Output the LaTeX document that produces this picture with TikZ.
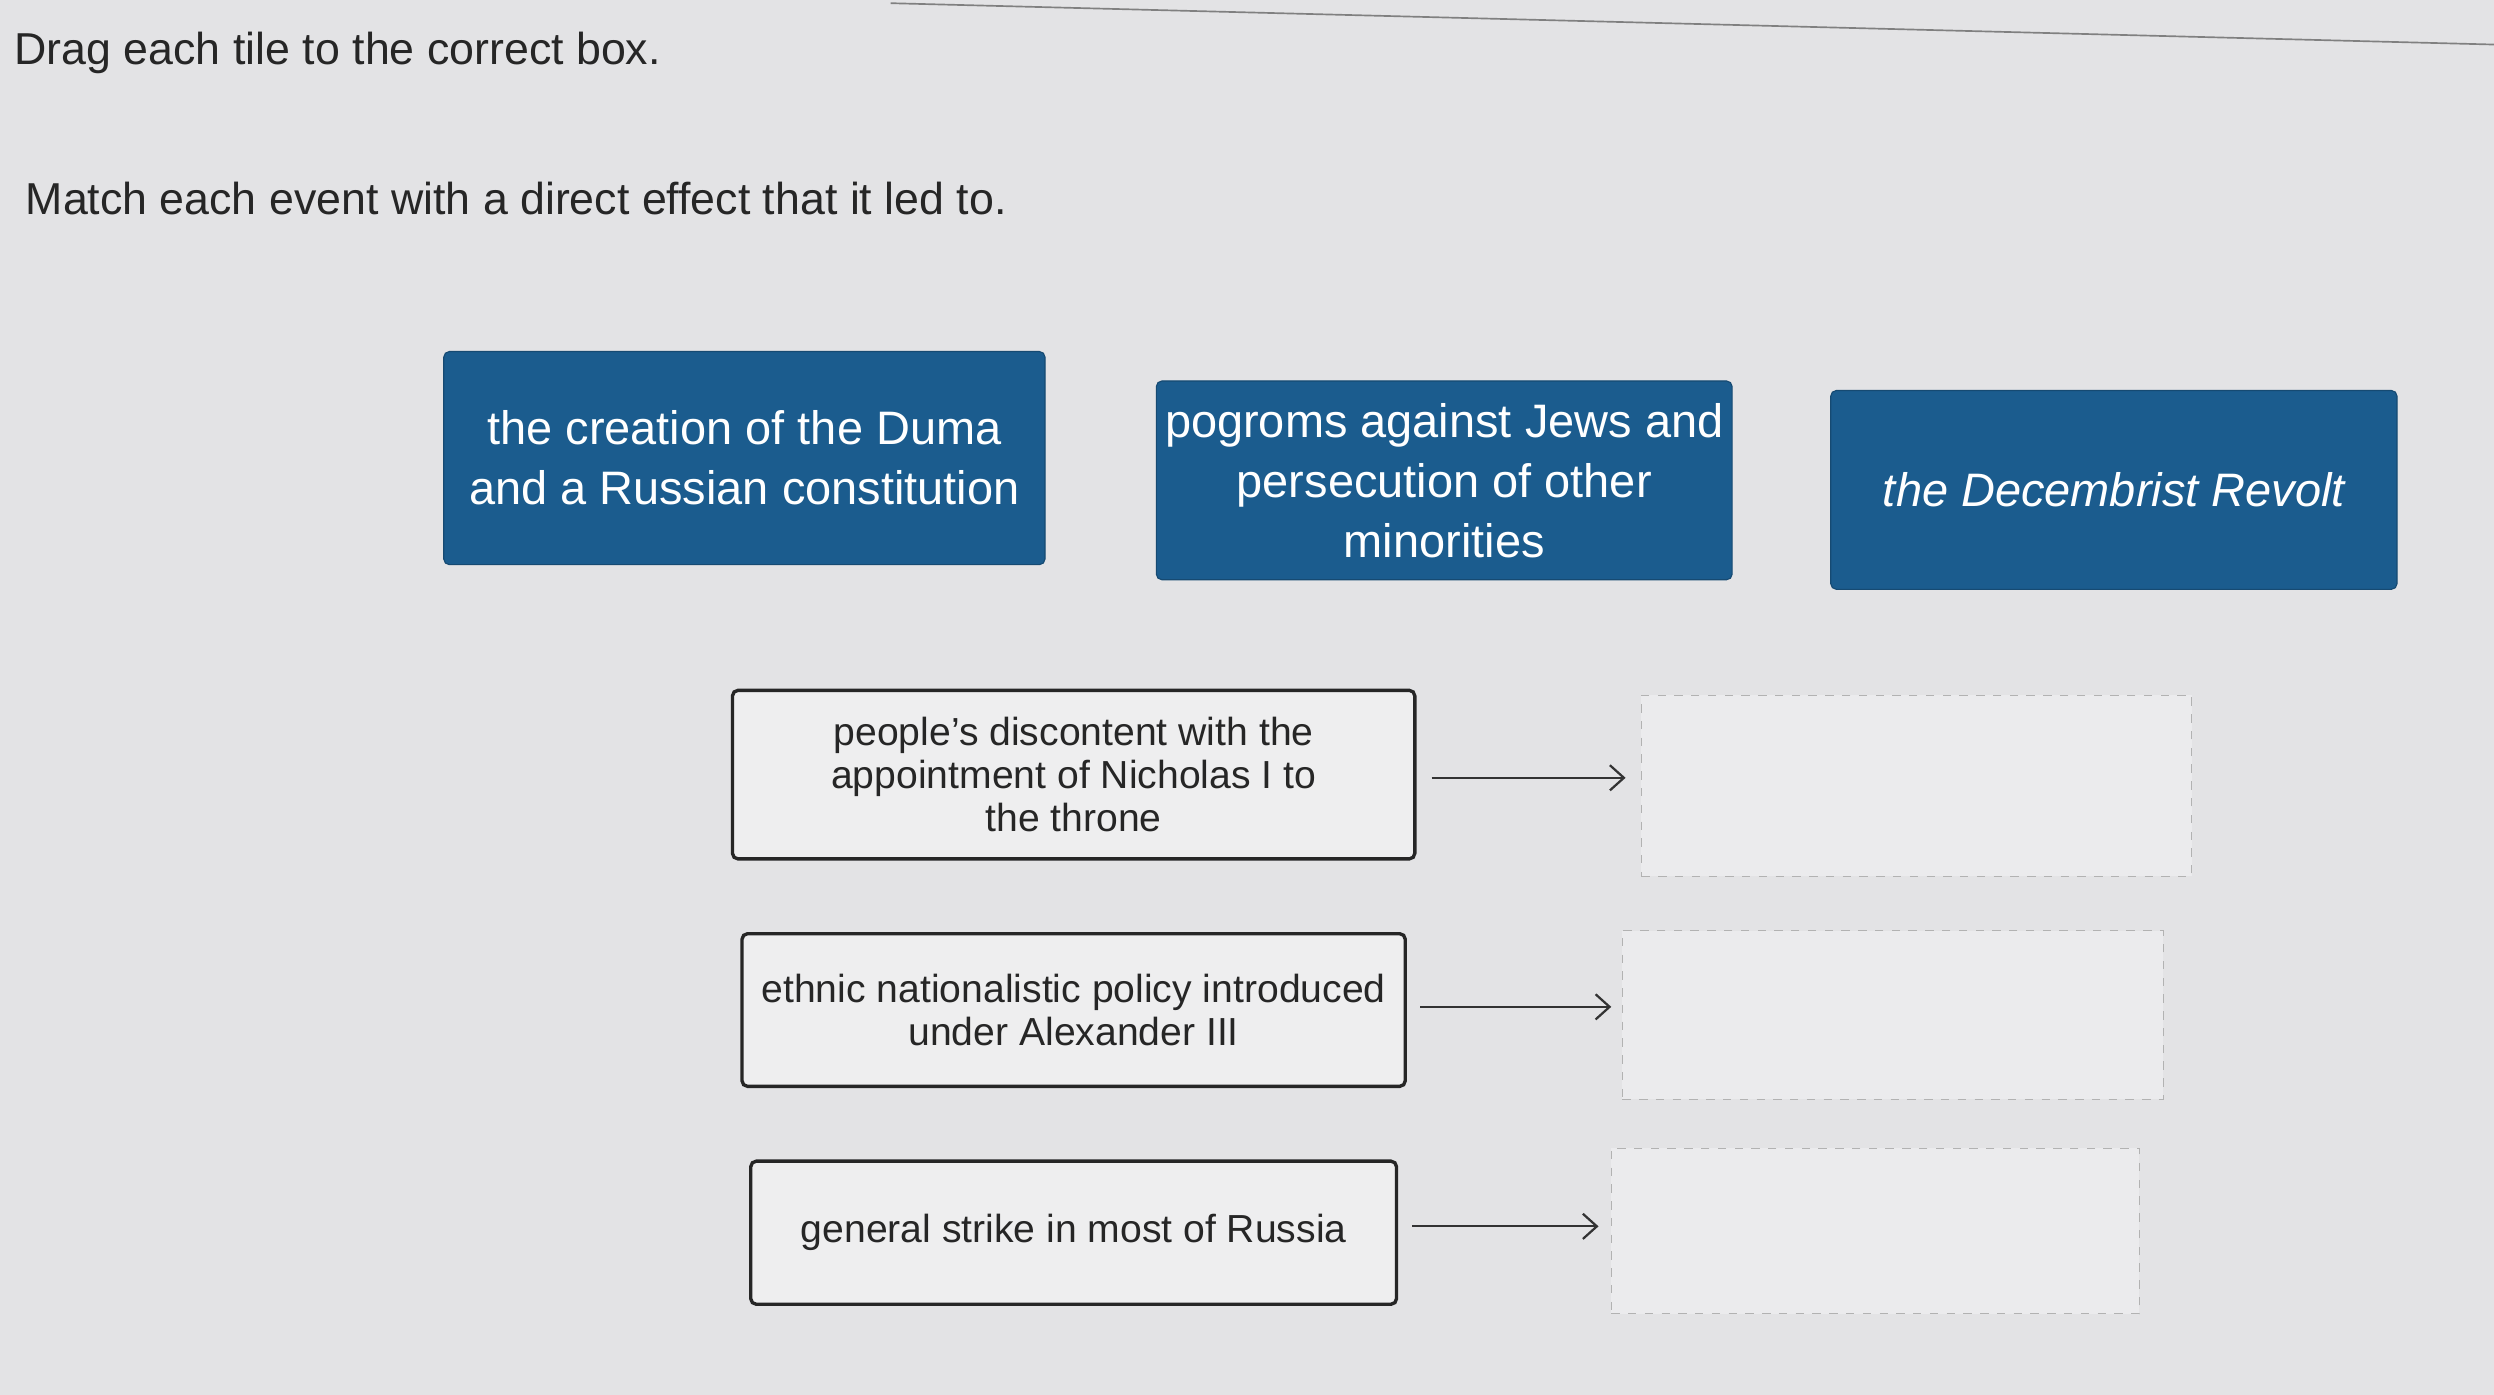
\documentclass[tikz,border=0pt]{standalone}
\usepackage{fontspec}
\usetikzlibrary{arrows.meta}
\setmainfont{Liberation Sans}
\begin{document}
\begin{tikzpicture}[x=0.02cm,y=-0.02cm,
 tile/.style={fill=tileblue,draw=tileblue!80!black,rounded corners=2pt,text=white,align=center,font=\fontsize{16.8}{21.5}\selectfont,inner sep=0},
 ev/.style={draw=black!85,line width=1.2pt,rounded corners=2pt,fill=white!40!bg,align=center,font=\fontsize{14}{15.4}\selectfont,text=black!85,inner sep=0},
 tgt/.style={draw=black!30,dashed,line width=0.4pt,fill=white!30!bg},
 arr/.style={-{Straight Barb[length=5pt,width=9pt]},black!80,line width=0.8pt}]
\definecolor{bg}{HTML}{E3E3E5}
\definecolor{tileblue}{HTML}{1B5C8E}
\fill[bg] (0,0) rectangle (1568,877);
\useasboundingbox (0,0) rectangle (1568,877);
\draw[black!50,line width=0.6pt] (560,2) -- (1568,28);
\node[anchor=west,font=\fontsize{16}{18}\selectfont,text=black!85] (t1) at (3,33) {Drag each tile to the correct box.};
\node[anchor=west,font=\fontsize{16}{18}\selectfont,text=black!85] (t2) at (10,125) {Match each event with a direct effect that it led to.};
% tiles
\node[tile,minimum width=378*0.02cm,minimum height=134*0.02cm] (a) at (468,288) {the creation of the Duma\\and a Russian constitution};
\node[tile,minimum width=362*0.02cm,minimum height=125*0.02cm] (b) at (908,302) {pogroms against Jews and\\persecution of other\\minorities};
\node[tile,minimum width=356*0.02cm,minimum height=125*0.02cm,font=\fontsize{16.8}{21.5}\selectfont\itshape] (c) at (1329,308) {the Decembrist Revolt};
% events
\node[ev,minimum width=429*0.02cm,minimum height=106*0.02cm] (e1) at (675,487) {people's discontent with the\\appointment of Nicholas I to\\the throne};
\node[ev,minimum width=417*0.02cm,minimum height=96*0.02cm] (e2) at (675,635) {ethnic nationalistic policy introduced\\under Alexander III};
\node[ev,minimum width=406*0.02cm,minimum height=90*0.02cm] (e3) at (675,775) {general strike in most of Russia};
% targets
\node[tgt,minimum width=346*0.02cm,minimum height=114*0.02cm] (g1) at (1205,494) {};
\node[tgt,minimum width=340*0.02cm,minimum height=106*0.02cm] (g2) at (1190,638) {};
\node[tgt,minimum width=332*0.02cm,minimum height=104*0.02cm] (g3) at (1179,774) {};
\coordinate (s1) at (900,489); \coordinate (d1) at (1022,489);
\coordinate (s2) at (893,633); \coordinate (d2) at (1013,633);
\coordinate (s3) at (888,771); \coordinate (d3) at (1005,771);
\draw[arr] (s1) -- (d1);
\draw[arr] (s2) -- (d2);
\draw[arr] (s3) -- (d3);
\end{tikzpicture}
\end{document}
